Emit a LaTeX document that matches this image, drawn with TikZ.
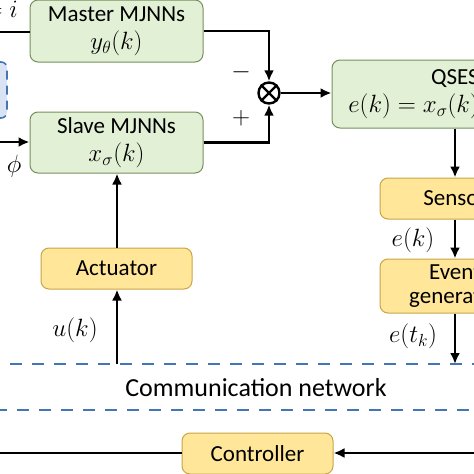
\RequirePackage{fix-cm}
\documentclass[tikz,border=0pt]{standalone}
\usepackage{fontspec}
\setmainfont{Carlito}
\usetikzlibrary{arrows.meta}
\definecolor{gfill}{HTML}{E2F0D5}
\definecolor{gdraw}{HTML}{75905C}
\definecolor{yfill}{HTML}{FFE699}
\definecolor{ydraw}{HTML}{C9A545}
\definecolor{netblue}{HTML}{4476B4}
\definecolor{bfill}{HTML}{DAE3F3}
\newcommand\mth[1]{{\fontsize{25}{29}\selectfont$#1$}}
\tikzset{
  gbox/.style={draw=gdraw, fill=gfill, line width=1pt, rounded corners=8pt, align=center, inner sep=0pt},
  ybox/.style={draw=ydraw, fill=yfill, line width=1pt, rounded corners=8pt, align=center, inner sep=0pt},
  conn/.style={line width=2.8pt, -{Latex[length=11pt,width=10pt]}},
  plain/.style={line width=2.8pt},
  netline/.style={draw=netblue, line width=2.8pt, dash pattern=on 12pt off 10pt},
  lbl/.style={inner sep=0pt}
}
\begin{document}
\begin{tikzpicture}[x=1pt,y=-1pt,font=\fontsize{23}{29}\selectfont]
\useasboundingbox (0,0) rectangle (474,474);
\clip (0,0) rectangle (474,474);
% dashed blue box at left
\draw[draw=netblue, fill=bfill, line width=1.6pt, dash pattern=on 9pt off 6pt, rounded corners=6pt] (-30,62) rectangle (7,118);
% boxes
\node[gbox, minimum width=173pt, minimum height=62pt] (master) at (116.5,31) {Master MJNNs\\[-1pt]\mth{y_\theta(k)}};
\node[gbox, minimum width=173pt, minimum height=61pt] (slave) at (116.5,142.5) {Slave MJNNs\\[-1pt]\mth{x_\sigma(k)}};
\node[draw, circle, line width=2.4pt, minimum size=21pt, inner sep=0pt] (ot) at (269,93) {};
\draw[line width=2.2pt] (ot.north west) -- (ot.south east) (ot.north east) -- (ot.south west);
\node[gbox, minimum width=246pt, minimum height=68pt] (qses) at (455,94) {QSES\\[-1pt]\mth{e(k)=x_\sigma(k)-y_\theta(k)}};
\node[ybox, minimum width=150pt, minimum height=41pt] (sensor) at (455,198.5) {Sensor};
\node[ybox, minimum width=150pt, minimum height=54pt] (eg) at (455,286) {Event\\[-5pt]generator};
\node[ybox, minimum width=151pt, minimum height=41pt] (act) at (116.5,268.5) {Actuator};
\node[ybox, minimum width=151pt, minimum height=41pt] (ctrl) at (257.5,453.5) {Controller};
% network lines
\draw[netline] (10,364) -- (480,364);
\draw[netline, dash phase=5pt] (0,410) -- (480,410);
\node[lbl, font=\fontsize{26}{30}\selectfont] (net) at (256,388) {Communication network};
% free ends
\coordinate (in1) at (0,32);
\coordinate (in2) at (0,142);
\coordinate (nu) at (117,364);
\coordinate (ne) at (455,364);
\coordinate (cl) at (0,453);
\coordinate (cr) at (480,453);
% connectors
\draw[plain] (in1) -- (in1 -| master.west);
\draw[conn] (in2) -- (in2 -| slave.west);
\draw[conn] (master.east) -| (ot.north);
\draw[conn] (slave.east) -| (ot.south);
\draw[conn] (ot.east) -- (ot.east -| qses.west);
\draw[conn] (qses.south) -- (sensor.north);
\draw[conn] (sensor.south) -- (eg.north);
\draw[conn] (eg.south) -- (ne);
\draw[conn] (nu) -- (nu |- act.south);
\draw[conn] (act.north -| nu) -- (nu |- slave.south);
\draw[plain] (cl) -- (cl -| ctrl.west);
\draw[conn] (cr) -- (cr -| ctrl.east);
% labels
\node[lbl, anchor=base east] (eqi) at (18,17) {\mth{=i}};
\node[lbl] (minus) at (241,72) {\mth{-}};
\node[lbl] (plus) at (241,118) {\mth{+}};
\node[lbl] (phi) at (14,166) {\mth{\phi}};
\node[lbl] (ek) at (413,240) {\mth{e(k)}};
\node[lbl] (etk) at (413,336) {\mth{e(t_k)}};
\node[lbl] (uk) at (75,330) {\mth{u(k)}};
\end{tikzpicture}
\end{document}
